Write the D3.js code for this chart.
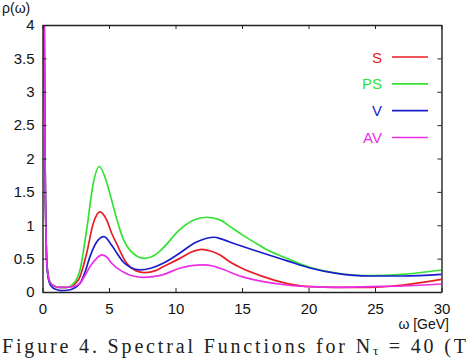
<!DOCTYPE html>
<html>
<head>
<meta charset="utf-8">
<script src="https://cdn.jsdelivr.net/npm/d3@7"></script>
<style>
  html, body { margin: 0; padding: 0; background: #fff; }
  svg { display: block; }
  text { font-family: "Liberation Sans", Arial, sans-serif; }
</style>
</head>
<body>
<svg id="chart" width="474" height="358"></svg>
<script>
// ---- data ----
const seriesNames = ["S", "PS", "V", "AV"];
const seriesColors = ["#ec1c24", "#33e133", "#1c1ccf", "#ea2ee6"];

const xTicks = [0, 5, 10, 15, 20, 25, 30];
const yTicks = [0, 0.5, 1, 1.5, 2, 2.5, 3, 3.5, 4];

const sData = [[0.1,5],[0.13,4.0],[0.17,2.6],[0.22,1.4],[0.28,0.7],[0.36,0.35],[0.5,0.18],[0.7,0.11],
  [1.2,0.07],[1.8,0.07],[2.3,0.1],[2.82,0.23],[3.32,0.58],[3.82,1.03],[4.32,1.2],[4.82,1.08],[5.2,0.88],
  [5.58,0.72],[6.33,0.43],[7.0,0.32],[7.7,0.29],[8.5,0.32],[9.07,0.38],[10.3,0.5],[11.2,0.6],[11.97,0.64],
  [12.7,0.61],[13.35,0.555],[14.1,0.45],[15,0.355],[16.6,0.23],[18.35,0.13],[20.1,0.08],[22.1,0.07],
  [24.6,0.07],[27.1,0.105],[30,0.19]];

const psData = [[0.1,5],[0.13,4.0],[0.17,2.6],[0.22,1.4],[0.28,0.7],[0.36,0.35],[0.5,0.18],[0.7,0.11],
  [1.2,0.07],[1.8,0.07],[2.3,0.12],[2.82,0.33],[3.32,0.93],[3.82,1.63],[4.27,1.88],[4.7,1.72],[5.1,1.45],
  [5.6,1.08],[6.1,0.78],[6.6,0.62],[7.65,0.505],[8.5,0.56],[9.07,0.66],[10.3,0.93],[11.3,1.07],[12.35,1.12],
  [13.35,1.08],[14.1,0.98],[15,0.86],[15.85,0.755],[17,0.62],[18.35,0.505],[20.1,0.37],[21.1,0.32],
  [22.1,0.285],[24.6,0.245],[27.1,0.265],[30,0.33]];

const vData = [[0.1,5],[0.13,4.0],[0.17,2.6],[0.22,1.4],[0.28,0.68],[0.36,0.32],[0.5,0.15],[0.7,0.08],
  [1.0,0.04],[1.4,0.02],[2.0,0.03],[2.4,0.06],[2.82,0.13],[3.2,0.3],[3.57,0.53],[4.07,0.75],[4.62,0.83],
  [5.2,0.7],[5.6,0.58],[6.07,0.45],[6.6,0.37],[7.3,0.33],[8.2,0.36],[9.07,0.43],[10.3,0.58],[11.5,0.74],
  [12.97,0.82],[13.35,0.80],[14.5,0.72],[15.85,0.63],[18.35,0.47],[20.1,0.36],[22.1,0.28],[24.6,0.24],
  [27.1,0.24],[30,0.265]];

const avData = [[0.1,5],[0.13,4.0],[0.17,2.6],[0.22,1.4],[0.28,0.7],[0.36,0.35],[0.5,0.18],[0.7,0.11],
  [1.2,0.07],[1.8,0.07],[2.3,0.08],[2.82,0.13],[3.2,0.25],[3.57,0.38],[4.07,0.505],[4.45,0.555],[4.9,0.51],
  [5.2,0.43],[6.07,0.30],[6.8,0.24],[7.6,0.22],[8.3,0.23],[9.07,0.26],[10.3,0.355],[11.2,0.395],[12.1,0.405],
  [12.8,0.39],[13.35,0.355],[15,0.23],[16.6,0.155],[18.35,0.105],[20.1,0.08],[22.1,0.07],[24.6,0.08],
  [27.1,0.09],[30,0.12]];

const allSeries = [sData, psData, vData, avData];

// ---- layout ----
const svg = d3.select("#chart");
const mLeft = 42.5, mRight = 441.5, mTop = 25, mBottom = 292;

const x = d3.scaleLinear().domain([0, 30]).range([mLeft, mRight]);
const y = d3.scaleLinear().domain([0, 4]).range([mBottom, mTop]);

svg.append("defs").append("clipPath").attr("id", "plotclip")
  .append("rect").attr("x", mLeft).attr("y", mTop)
  .attr("width", mRight - mLeft).attr("height", mBottom - mTop);

const line = d3.line().x(d => x(d[0])).y(d => y(d[1])).curve(d3.curveMonotoneX);

const plot = svg.append("g").attr("clip-path", "url(#plotclip)");
allSeries.forEach((data, i) => {
  plot.append("path").datum(data)
    .attr("d", line)
    .attr("fill", "none")
    .attr("stroke", seriesColors[i])
    .attr("stroke-width", 1.7);
});

// ---- axes (box with inward ticks) ----
function styleAxis(g) {
  g.select(".domain").attr("stroke", "#222").attr("stroke-width", 1.4);
  g.selectAll(".tick line").attr("stroke", "#222").attr("stroke-width", 1);
  g.selectAll(".tick text").attr("fill", "#111")
    .style("font-family", '"Liberation Sans", Arial, sans-serif')
    .style("font-size", "15px");
}

svg.append("g").attr("transform", `translate(0,${mBottom})`)
  .call(d3.axisBottom(x).tickValues(xTicks).tickFormat(d3.format("d"))
        .tickSizeInner(-4).tickSizeOuter(0).tickPadding(11))
  .call(styleAxis);

svg.append("g").attr("transform", `translate(0,${mTop})`)
  .call(d3.axisTop(x).tickValues(xTicks).tickFormat("")
        .tickSizeInner(-4).tickSizeOuter(0))
  .call(styleAxis);

svg.append("g").attr("transform", `translate(${mLeft},0)`)
  .call(d3.axisLeft(y).tickValues(yTicks).tickFormat(d => String(d))
        .tickSizeInner(-4).tickSizeOuter(0).tickPadding(8))
  .call(styleAxis);

svg.append("g").attr("transform", `translate(${mRight},0)`)
  .call(d3.axisRight(y).tickValues(yTicks).tickFormat("")
        .tickSizeInner(-4).tickSizeOuter(0))
  .call(styleAxis);

// ---- axis labels ----
svg.append("text").attr("x", 2).attr("y", 13)
  .attr("font-size", 14).attr("fill", "#111").text("ρ(ω)");

svg.append("text").attr("x", 449).attr("y", 329)
  .attr("text-anchor", "end").attr("font-size", 14).attr("fill", "#111").text("ω [GeV]");

// ---- legend ----
const legendRowY = d3.scalePoint().domain(seriesNames).range([57, 137.5]);
seriesNames.forEach((name, i) => {
  const yy = legendRowY(name);
  svg.append("text").attr("x", 382).attr("y", yy + 5.5)
    .attr("text-anchor", "end").attr("font-size", 15)
    .attr("fill", seriesColors[i]).text(name);
  svg.append("line").attr("x1", 392).attr("x2", 428)
    .attr("y1", yy).attr("y2", yy)
    .attr("stroke", seriesColors[i]).attr("stroke-width", 1.7);
});

// ---- caption ----
const cap = svg.append("text").attr("x", 2).attr("y", 353)
  .attr("font-size", 20).attr("fill", "#222")
  .style("font-family", '"Liberation Serif", "DejaVu Serif", serif')
  .attr("textLength", 464).attr("lengthAdjust", "spacing");
cap.append("tspan").text("Figure 4.  Spectral Functions for N");
cap.append("tspan").attr("font-size", 13).attr("dy", 2).text("τ");
cap.append("tspan").attr("dy", -2).text(" = 40 (T");
</script>
</body>
</html>
